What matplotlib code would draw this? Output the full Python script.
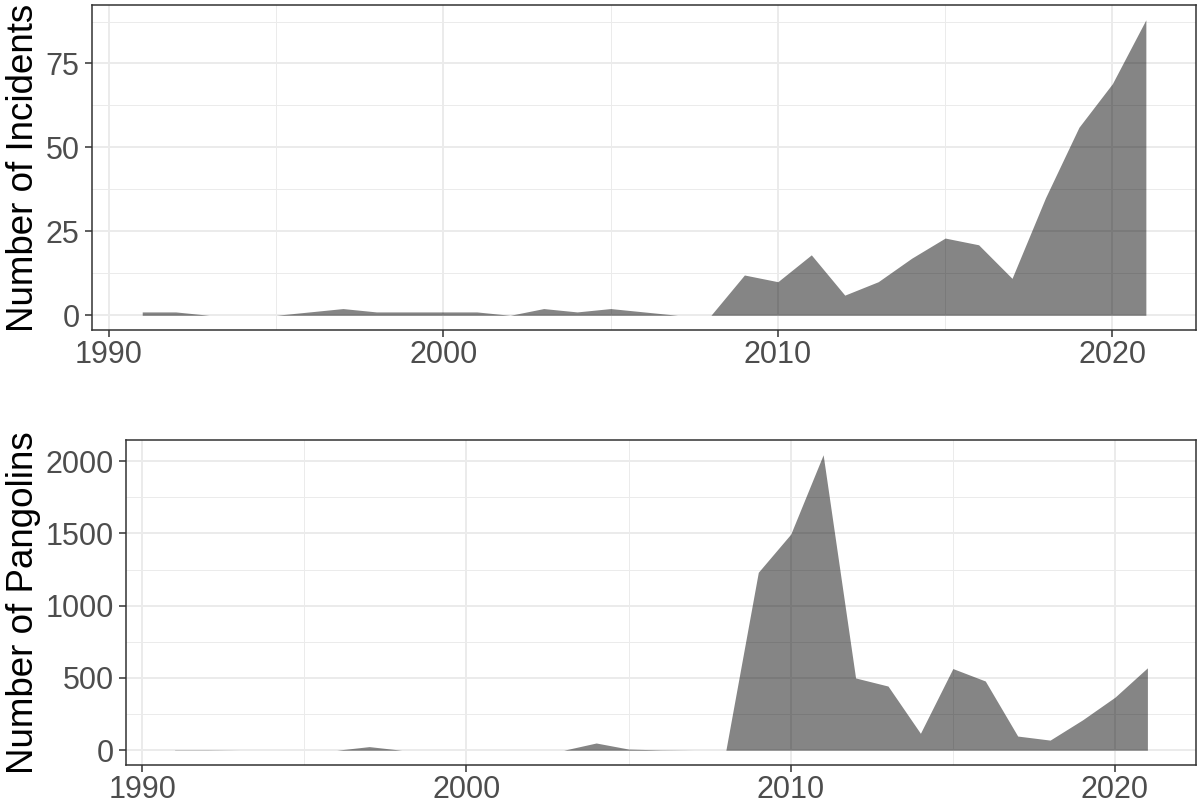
import matplotlib
matplotlib.use("Agg")
import matplotlib.pyplot as plt
from matplotlib.ticker import MultipleLocator

plt.rcParams['font.family'] = ['Liberation Sans', 'DejaVu Sans']

years = list(range(1991, 2022))
incidents = [1, 1, 0, 0, 0, 1, 2, 1, 1, 1, 1, 0, 2, 1, 2, 1, 0, 0,
             12, 10, 18, 6, 10, 17, 23, 21, 11, 35, 56, 69, 88]
pangolins = [2, 2, 0, 0, 0, 0, 25, 0, 0, 0, 0, 0, 0, 50, 8, 2, 0, 0,
             1231, 1495, 2044, 500, 444, 117, 565, 479, 98, 70, 210, 367, 570]

xticks = [1990, 2000, 2010, 2020]
labels = ["Number of Incidents", "Number of Pangolins"]

fig = plt.figure(figsize=(12, 8.05), dpi=100)
ax1 = fig.add_axes([0.0767, 0.590, 0.920, 0.4037])
ax2 = fig.add_axes([0.105, 0.0497, 0.8917, 0.4037])


def style(ax, values, ylabel, ystep):
    ax.fill_between(years, values, 0, color="black", alpha=0.48, linewidth=0, zorder=2)
    lo, hi = min(years), max(years)
    pad = (hi - lo) * 0.05
    ax.set_xlim(lo - pad, hi + pad)
    vmax = max(values)
    ax.set_ylim(-vmax * 0.05, vmax * 1.05)
    ax.set_xticks(xticks)
    ax.xaxis.set_minor_locator(MultipleLocator(5))
    ax.yaxis.set_major_locator(MultipleLocator(ystep))
    ax.yaxis.set_minor_locator(MultipleLocator(ystep / 2))
    ax.grid(which="major", color="#EBEBEB", linewidth=1.4, zorder=0)
    ax.grid(which="minor", color="#EBEBEB", linewidth=0.7, zorder=0)
    ax.set_axisbelow(True)
    ax.tick_params(which="major", length=5, width=1.1, color="#333333",
                   labelsize=22, labelcolor="#4D4D4D")
    ax.tick_params(axis="x", pad=2)
    ax.tick_params(axis="y", pad=4)
    ax.tick_params(which="minor", length=0)
    for s in ax.spines.values():
        s.set_color("#333333")
        s.set_linewidth(1.1)
    ax.set_ylabel(ylabel, fontsize=26.5, color="black", labelpad=3)


style(ax1, incidents, labels[0], 25)
style(ax2, pangolins, labels[1], 500)

fig.savefig("out.png", dpi=100, facecolor="white")
